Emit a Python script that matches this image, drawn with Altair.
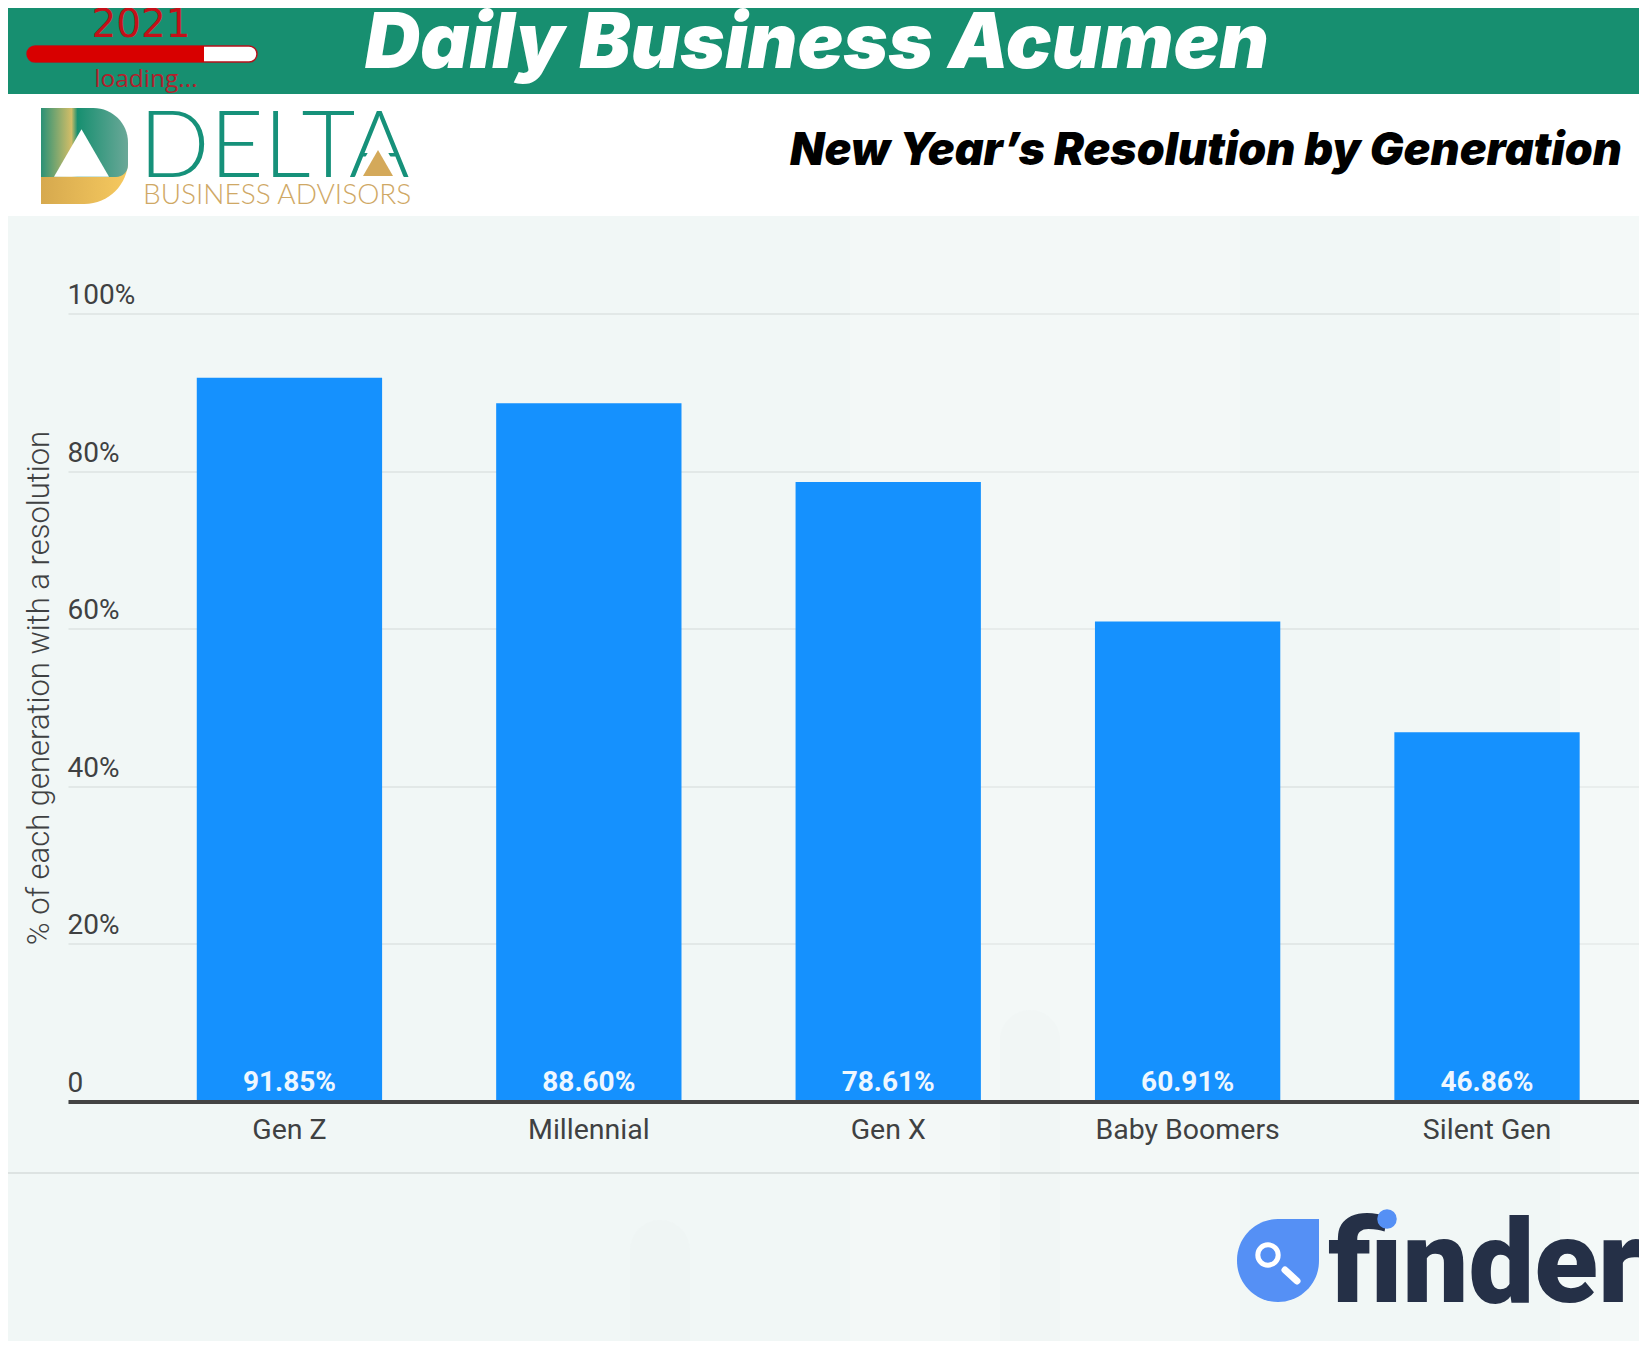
import altair as alt
import pandas as pd

categories = ["Gen Z", "Millennial", "Gen X", "Baby Boomers", "Silent Gen"]
values = [91.85, 88.60, 78.61, 60.91, 46.86]
y_ticks = [0, 20, 40, 60, 80, 100]

WIDTH, HEIGHT = 1572, 788
PAD_L, PAD_T = 60, 305.5
CANVAS_W, CANVAS_H = 1631, 1333
GREEN, BLUE = "#178f70", "#1591fe"
TEXT = "#3f4142"

df = pd.DataFrame({"cat": categories, "v": values,
                   "label": [f"{v:.2f}%" for v in values]})
one = pd.DataFrame({"a": [0]})


def X(px):
    return px - 8 - PAD_L


def Y(px):
    return px - 8 - PAD_T


def rect(x0, x1, y0, y1, fill, **kw):
    return alt.Chart(one).mark_rect(color=fill, **kw).encode(
        x=alt.value(X(x0)), x2=alt.value(X(x1)),
        y=alt.value(Y(y0)), y2=alt.value(Y(y1)))


def text(s, x, y, **kw):
    return alt.Chart(one).mark_text(text=s, baseline="alphabetic", **kw).encode(
        x=alt.value(X(x)), y=alt.value(Y(y)))


def point(x, y, **kw):
    return alt.Chart(one).mark_point(**kw).encode(
        x=alt.value(X(x)), y=alt.value(Y(y)))


def grad(stops):
    return alt.Gradient(gradient="linear", x1=0, x2=1, y1=0, y2=0,
                        stops=[alt.GradientStop(offset=o, color=c) for o, c in stops])


x_scale = alt.Scale(domain=categories, paddingInner=0.381, paddingOuter=0.3158, align=0.681)
y_scale = alt.Scale(domain=[0, 100], nice=False)
x_enc = alt.X("cat:N", scale=x_scale, sort=categories, title=None,
              axis=alt.Axis(labelAngle=0, labelFont="Roboto", labelFontSize=28.5, labelColor=TEXT,
                            labelPadding=14, labelLimit=400, ticks=False, domainColor="#444444",
                            domainWidth=4, zindex=1, grid=False))
y_enc = alt.Y("v:Q", scale=y_scale,
              axis=alt.Axis(values=y_ticks, domain=False, ticks=False, grid=True, gridColor="#dde3e2",
                            gridWidth=1.5, labelFont="Roboto", labelFontSize=28, labelColor=TEXT,
                            labelAlign="left", labelPadding=1, labelOffset=-10, labelBaseline="alphabetic",
                            labelExpr="datum.value == 0 ? '0' : datum.value + '%'",
                            title="% of each generation with a resolution", titleFont="Roboto",
                            titleFontSize=31, titleFontWeight=300, titleColor=TEXT,
                            titleX=-29, titleY=374, titleAnchor="middle", titleBaseline="middle"))

bars = alt.Chart(df).mark_bar(color=BLUE).encode(x=x_enc, y=y_enc)
bar_labels = alt.Chart(df).mark_text(color="#eef7ff", font="Roboto", fontSize=28, fontWeight=700,
                                     baseline="alphabetic", dy=-11).encode(
    x=alt.X("cat:N", scale=x_scale, sort=categories, title=None),
    y=alt.datum(0), text="label:N")

layers = [
    rect(0, 1647, 0, 94, GREEN),
    rect(0, 1647, 94, 216, "#ffffff"),
    # faint background texture
    rect(850, 1240, 216, 1349, "#ffffff", opacity=0.18),
    rect(1560, 1647, 216, 1349, "#ffffff", opacity=0.25),
    rect(630, 690, 1220, 1341, "#e9f2f0", opacity=0.2, cornerRadiusTopLeft=30, cornerRadiusTopRight=30),
    rect(1000, 1060, 1010, 1341, "#e9f2f0", opacity=0.2, cornerRadiusTopLeft=30, cornerRadiusTopRight=30),
    # progress bar
    text("2021", 141, 37, align="center", font="DejaVu Sans", fontSize=39, color="#c41018"),
    rect(27, 257, 46, 62, "#ffffff", cornerRadius=8, stroke="#b5121b", strokeWidth=1.5),
    rect(27, 204, 46, 62, "#d80000", cornerRadiusTopLeft=8, cornerRadiusBottomLeft=8),
    text("loading...", 146, 87, align="center", font="Open Sans", fontSize=24.5, color="#b3202c"),
    # headline
    text("Daily Business Acumen", 365, 68, align="left", font="Inter", fontSize=76.4, fontWeight=900,
         fontStyle="italic", color="#ffffff"),
    text("New Year\u2019s Resolution by Generation", 790, 165, align="left", font="Inter", fontSize=44.8,
         fontWeight=900, fontStyle="italic", color="#000000"),
    # delta logo
    rect(41, 128, 108, 204, grad([(0, "#d6a94e"), (1, "#f6c95f")]),
         cornerRadiusTopRight=44, cornerRadiusBottomRight=44),
    rect(41, 128, 108, 177, grad([(0, "#2a9176"), (0.35, "#d2bd67"), (0.42, "#178f70"), (1, "#6ba898")]),
         cornerRadiusTopRight=44, cornerRadiusBottomRight=12),
    point(81.5, 153, shape="triangle-up", size=3025, filled=True, color="#ffffff", opacity=1),
    text("DELTA", 139, 177, align="left", font="Lato", fontSize=93, fontWeight=300, color="#16917a"),
    point(378, 152.5, shape="triangle-up", size=1600, filled=True, color="#ffffff", opacity=1),
    point(378, 163, shape="triangle-up", size=900, filled=True, color="#d4a95a", opacity=1),
    text("BUSINESS ADVISORS", 143, 204, align="left", font="Lato", fontSize=28, fontWeight=300, color="#cfa865"),
    # chart
    bars,
    bar_labels,
    # separator
    rect(8, 1640, 1172, 1174, "#dde3e2"),
    # finder logo
    rect(1237, 1319, 1219, 1302, "#5590f5", cornerRadiusTopLeft=41, cornerRadiusBottomLeft=41,
         cornerRadiusBottomRight=41),
    point(1268, 1255, shape="circle", size=415, filled=False, color="#ffffff", strokeWidth=5, opacity=1),
    alt.Chart(one).mark_rule(color="#ffffff", strokeWidth=7, strokeCap="round").encode(
        x=alt.value(X(1285)), x2=alt.value(X(1297)), y=alt.value(Y(1270)), y2=alt.value(Y(1281))),
    text("finder", 1328, 1302, align="left", font="Roboto", fontSize=117, fontWeight=900, color="#253047"),
    point(1387, 1219, shape="circle", size=380, filled=True, color="#5590f5", opacity=1),
]

chart = alt.layer(*layers).properties(
    width=WIDTH, height=HEIGHT, background="#f1f7f6",
    padding={"left": PAD_L, "top": PAD_T, "right": CANVAS_W - PAD_L - WIDTH, "bottom": CANVAS_H - PAD_T - HEIGHT},
    autosize=alt.AutoSizeParams(type="none"),
).configure_view(stroke=None)

chart.save("out.html", embed_options={"renderer": "svg", "actions": False})
